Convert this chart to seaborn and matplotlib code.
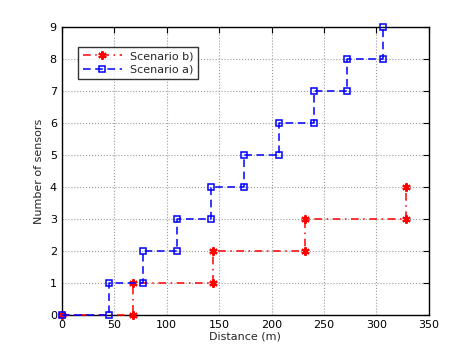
import pandas as pd
import seaborn as sns
import matplotlib.pyplot as plt

# step vertices
dist_a = [0, 45, 45, 78, 78, 110, 110, 142, 142, 174, 174, 207, 207, 240, 240, 272, 272, 306, 306]
sens_a = [0, 0, 1, 1, 2, 2, 3, 3, 4, 4, 5, 5, 6, 6, 7, 7, 8, 8, 9]
dist_b = [0, 68, 68, 144, 144, 232, 232, 328, 328]
sens_b = [0, 0, 1, 1, 2, 2, 3, 3, 4]

df_a = pd.DataFrame({'dist': dist_a, 'sensors': sens_a})
df_b = pd.DataFrame({'dist': dist_b, 'sensors': sens_b})

sns.set_style('white')
plt.rcParams['font.family'] = ['DejaVu Sans']
plt.rcParams['font.size'] = 8

fig = plt.figure(figsize=(4.74, 3.54), dpi=100)
ax = fig.add_axes([0.13, 0.11, 0.775, 0.814])

sns.lineplot(data=df_b, x='dist', y='sensors', sort=False, estimator=None, ax=ax,
             color='red', marker=(6, 2, 0), markersize=6, markeredgecolor='red',
             markeredgewidth=1.5, linewidth=1.1, label='Scenario b)')
ax.lines[-1].set_dashes([5, 3, 1, 3])
sns.lineplot(data=df_a, x='dist', y='sensors', sort=False, estimator=None, ax=ax,
             color='blue', marker='s', markersize=5, markerfacecolor='none',
             markeredgecolor='blue', markeredgewidth=1.1, linewidth=1.1,
             label='Scenario a)')
ax.lines[-1].set_dashes([5, 3])
for ln in ax.lines:
    ln.set_clip_on(False)
    ln.set_zorder(5)

ax.set_xlim(0, 350)
ax.set_ylim(0, 9)
ax.set_xticks(range(0, 351, 50))
ax.set_yticks(range(0, 10))
ax.grid(True, linestyle=':', color='#999999', linewidth=0.8)
ax.tick_params(direction='in', top=True, right=True, length=4, labelsize=8, colors='black')
for s in ax.spines.values():
    s.set_color('black')
    s.set_linewidth(1.0)

ax.set_xlabel('Distance (m)', fontsize=8, labelpad=1)
ax.set_ylabel('Number of sensors', fontsize=8, labelpad=4)

leg = ax.legend(loc='upper left', bbox_to_anchor=(0.03, 0.95), fontsize=8,
                frameon=True, fancybox=False, edgecolor='black', handlelength=3.5,
                borderpad=0.4, labelspacing=0.3)
leg.get_frame().set_linewidth(1.0)

fig.savefig('out.png', dpi=100)
